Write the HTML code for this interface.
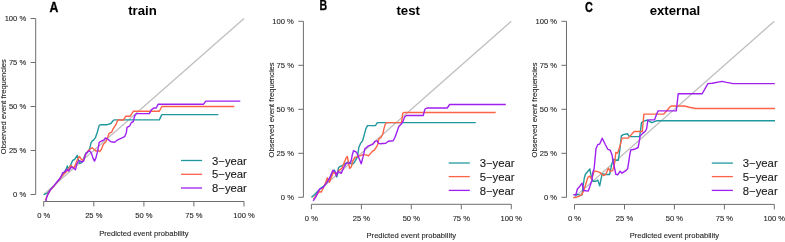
<!DOCTYPE html>
<html><head><meta charset="utf-8"><style>
html,body{margin:0;padding:0;background:#fff;}
svg{display:block;will-change:transform;}
</style></head><body>
<svg width="785" height="242" viewBox="0 0 785 242">
<rect width="785" height="242" fill="#fff"/>
<line x1="43.7" y1="194.5" x2="244" y2="18.5" stroke="#bdbdbd" stroke-width="1.15"/>
<clipPath id="ca"><rect x="35.7" y="11.5" width="216.3" height="190.1"/></clipPath>
<g clip-path="url(#ca)" fill="none" stroke-width="1.4" stroke-linejoin="round" stroke-linecap="butt">
<polyline stroke="#20999e" points="43.7,194.6 47.9,192.8 50.4,189.7 54.1,185.7 56.6,182.7 59.7,178.9 62,175.9 64.5,171.9 66.4,168.6 67.3,165.9 68.6,169.4 70.5,165.4 72.7,160.4 74.5,159.5 77.3,155.4 79.5,163.6 82,162.4 85.9,153.1 87.2,152.8 89.7,148.7 91,142.9 92.6,140.4 93.6,140.2 95.4,137.7 97.3,132.2 99.2,125.4 101,124.7 107.2,124.7 110.9,123.5 112.8,121 114,119.9 159.3,119.9 161.8,114.6 218.4,114.6"/>
<polyline stroke="#ff6347" points="45.4,200.3 47.9,193.9 50.4,189.9 54.1,185.9 56.6,182.9 59.7,179.1 62,175.9 65,172.9 68,169.9 70.9,165.4 72.5,166.9 74.1,167.7 77.7,159 79.4,156.5 81.4,159.4 83.5,160.4 85.6,154.4 87.6,151.6 90.5,148.7 92.2,147.8 94.3,149.5 95.9,151.1 98,150.3 99.6,151.6 101.3,149.5 103.3,144.5 104.6,142.9 106,141.4 107.8,137.1 109.1,133.4 111.6,132.2 113.4,128.4 115.9,124.7 117.8,120 123.4,120 125.9,116.2 130.2,116.2 133.3,111.3 159.3,111.3 161.8,106.5 234.3,106.5"/>
<polyline stroke="#a020f0" points="45.7,202.1 46.7,197.4 47.9,194.3 50.4,189.9 54.1,185.6 56.6,182.5 59.7,178.8 61.5,175.7 62.7,172.6 65,172 66.8,169.2 68.6,171.1 71.4,167 73.2,167.9 75.5,169.7 76.8,164.2 78.2,161.5 79.5,160.6 81.8,162 83.6,161.1 85,156.1 86.4,152.9 88.2,151.5 89.7,150.9 91.4,153.1 93.2,158.6 94.5,161.1 95.9,157.9 97.3,152.4 98.5,146.6 99.2,142.3 101.6,141 104.1,139.8 105.4,137.9 107.8,139.2 110.9,141.7 114.7,142.3 117.7,139.8 122.1,137.9 124.6,136.7 126.4,132.4 127,127.4 129.5,126.2 131.4,122.5 133.3,121.6 134.6,116 136.4,113.6 149.4,113.6 151.3,109.9 153.8,108 156.3,108 158.1,104.3 203.4,104.3 205.8,101.1 240.3,101.1"/>
</g>
<g stroke="#6e6e6e" stroke-width="1" fill="none">
<line x1="35.7" y1="18.5" x2="35.7" y2="194.5"/>
<line x1="30.6" y1="194.5" x2="35.7" y2="194.5"/>
<line x1="30.6" y1="150.5" x2="35.7" y2="150.5"/>
<line x1="30.6" y1="106.5" x2="35.7" y2="106.5"/>
<line x1="30.6" y1="62.5" x2="35.7" y2="62.5"/>
<line x1="30.6" y1="18.5" x2="35.7" y2="18.5"/>
<line x1="43.7" y1="201.5" x2="244" y2="201.5"/>
<line x1="43.7" y1="201.5" x2="43.7" y2="206.5"/>
<line x1="93.8" y1="201.5" x2="93.8" y2="206.5"/>
<line x1="143.9" y1="201.5" x2="143.9" y2="206.5"/>
<line x1="193.9" y1="201.5" x2="193.9" y2="206.5"/>
<line x1="244" y1="201.5" x2="244" y2="206.5"/>
</g>
<g font-family='"Liberation Sans", sans-serif' font-size="7.6" fill="#1e1e1e" stroke="#1e1e1e" stroke-width="0.1">
<text x="26.2" y="197.1" text-anchor="end">0 %</text>
<text x="26.2" y="153.1" text-anchor="end">25 %</text>
<text x="26.2" y="109.1" text-anchor="end">50 %</text>
<text x="26.2" y="65.1" text-anchor="end">75 %</text>
<text x="26.2" y="21.1" text-anchor="end">100 %</text>
<text x="43.7" y="218" text-anchor="middle">0 %</text>
<text x="93.8" y="218" text-anchor="middle">25 %</text>
<text x="143.9" y="218" text-anchor="middle">50 %</text>
<text x="193.9" y="218" text-anchor="middle">75 %</text>
<text x="244" y="218" text-anchor="middle">100 %</text>
<text x="143.9" y="235.7" text-anchor="middle">Predicted event probability</text>
<text transform="translate(6.1,106.7) rotate(-90)" text-anchor="middle">Observed event frequencies</text>
</g>
<line x1="181" y1="160.5" x2="202.1" y2="160.5" stroke="#20999e" stroke-width="1.3"/>
<line x1="181" y1="174.3" x2="202.1" y2="174.3" stroke="#ff6347" stroke-width="1.3"/>
<line x1="181" y1="188" x2="202.1" y2="188" stroke="#a020f0" stroke-width="1.3"/>
<g font-family='"Liberation Sans", sans-serif' font-size="11.3" fill="#1a1a1a" stroke="#1a1a1a" stroke-width="0.12">
<text x="212" y="164.6">3−year</text>
<text x="212" y="178.3">5−year</text>
<text x="212" y="192">8−year</text>
</g>
<text transform="translate(49.6,12.1) scale(0.79,1)" font-family='"Liberation Sans", sans-serif' font-weight="bold" font-size="15.5" fill="#000" stroke="#000" stroke-width="0.35">A</text>
<text transform="translate(142.5,14.8)" text-anchor="middle" font-family='"Liberation Sans", sans-serif' font-weight="bold" font-size="13.2" fill="#000">train</text>
<line x1="311.4" y1="197.3" x2="511.3" y2="21.3" stroke="#bdbdbd" stroke-width="1.15"/>
<clipPath id="cb"><rect x="303.4" y="14.3" width="215.9" height="190.1"/></clipPath>
<g clip-path="url(#cb)" fill="none" stroke-width="1.4" stroke-linejoin="round" stroke-linecap="butt">
<polyline stroke="#20999e" points="311.4,197 312.6,196.6 315.2,193.9 318.5,190.6 320.5,188.4 323.5,186.3 326.9,182.6 329.9,178.1 332.5,172.6 334.4,170 336.9,177 338.4,168.1 339.8,166.6 341.4,166 343.8,164.7 346.3,163.1 348,161.8 350,163.1 352.1,164.3 353.8,163.1 355.4,160.6 357.2,157.5 358,153.3 358.8,147.5 360.5,143.4 362.5,141 364.1,135.4 365.9,128.6 367.5,125.6 375.4,125.6 377.4,122.6 475.8,122.6"/>
<polyline stroke="#ff6347" points="313.5,199.4 315.9,195.5 319.8,191.6 321.2,192.2 325,184.2 327.4,177.8 329.4,182.3 333.4,172.3 335.9,174.3 338.9,170.3 341.8,168.4 344.3,162.4 345.9,158.4 347.3,156.5 349.6,168.4 351.3,166.7 352.9,160.9 354.7,157.3 356.8,156.9 358.8,156.1 361.3,155.3 363.4,154.4 365.5,154.9 368.8,155.7 370.4,153.6 372.1,151.6 374.5,149.9 377,146.2 377.9,143.7 378.9,138.8 380.8,137.6 382.7,134.5 383.9,128.9 385.1,124.6 386.4,122.6 401.5,122.6 402.7,113.4 404,112.5 495.7,112.5"/>
<polyline stroke="#a020f0" points="313.2,200.8 315.9,196.9 318.5,190.9 319.8,188.9 323.1,187.6 326.9,182.3 329.9,177.3 332.9,170.3 335.4,172.3 336.4,175.8 337.9,171.3 339.4,172.3 341.3,173.3 343.8,167.4 345.8,164.4 346.3,162.9 348.4,163.4 350,162.9 351.3,160.1 352.2,155.3 353.5,150.7 355.5,151.6 356.8,152.8 358.8,157.8 361.2,163.8 363,156.9 365,148.3 366.3,147.8 367.9,146.2 369.7,145.4 372.8,144.4 375.2,141.3 377.1,140.7 378.3,143.2 380.2,143.8 385.8,143.2 388.2,141.3 393.2,140.7 395.1,137 396.9,132 398.8,126.5 401.3,124 402.7,122 404.6,117.1 406.4,115.5 423.2,115.5 425,109 426.9,108 447.3,108 449.6,104.5 505.8,104.5"/>
</g>
<g stroke="#6e6e6e" stroke-width="1" fill="none">
<line x1="303.4" y1="21.3" x2="303.4" y2="197.3"/>
<line x1="298.3" y1="197.3" x2="303.4" y2="197.3"/>
<line x1="298.3" y1="153.3" x2="303.4" y2="153.3"/>
<line x1="298.3" y1="109.3" x2="303.4" y2="109.3"/>
<line x1="298.3" y1="65.3" x2="303.4" y2="65.3"/>
<line x1="298.3" y1="21.3" x2="303.4" y2="21.3"/>
<line x1="311.4" y1="204.3" x2="511.3" y2="204.3"/>
<line x1="311.4" y1="204.3" x2="311.4" y2="209.3"/>
<line x1="361.4" y1="204.3" x2="361.4" y2="209.3"/>
<line x1="411.3" y1="204.3" x2="411.3" y2="209.3"/>
<line x1="461.3" y1="204.3" x2="461.3" y2="209.3"/>
<line x1="511.3" y1="204.3" x2="511.3" y2="209.3"/>
</g>
<g font-family='"Liberation Sans", sans-serif' font-size="7.6" fill="#1e1e1e" stroke="#1e1e1e" stroke-width="0.1">
<text x="293.9" y="199.8" text-anchor="end">0 %</text>
<text x="293.9" y="155.8" text-anchor="end">25 %</text>
<text x="293.9" y="111.8" text-anchor="end">50 %</text>
<text x="293.9" y="67.8" text-anchor="end">75 %</text>
<text x="293.9" y="23.8" text-anchor="end">100 %</text>
<text x="311.4" y="220.7" text-anchor="middle">0 %</text>
<text x="361.4" y="220.7" text-anchor="middle">25 %</text>
<text x="411.3" y="220.7" text-anchor="middle">50 %</text>
<text x="461.3" y="220.7" text-anchor="middle">75 %</text>
<text x="511.3" y="220.7" text-anchor="middle">100 %</text>
<text x="411.3" y="237.9" text-anchor="middle">Predicted event probability</text>
<text transform="translate(273.8,109.9) rotate(-90)" text-anchor="middle">Observed event frequencies</text>
</g>
<line x1="448.7" y1="163" x2="469.8" y2="163" stroke="#20999e" stroke-width="1.3"/>
<line x1="448.7" y1="176.6" x2="469.8" y2="176.6" stroke="#ff6347" stroke-width="1.3"/>
<line x1="448.7" y1="190.4" x2="469.8" y2="190.4" stroke="#a020f0" stroke-width="1.3"/>
<g font-family='"Liberation Sans", sans-serif' font-size="11.3" fill="#1a1a1a" stroke="#1a1a1a" stroke-width="0.12">
<text x="479.7" y="167.1">3−year</text>
<text x="479.7" y="180.8">5−year</text>
<text x="479.7" y="194.5">8−year</text>
</g>
<text transform="translate(319.6,10.4) scale(0.68,1)" font-family='"Liberation Sans", sans-serif' font-weight="bold" font-size="15.5" fill="#000" stroke="#000" stroke-width="0.35">B</text>
<text transform="translate(408.2,14.8)" text-anchor="middle" font-family='"Liberation Sans", sans-serif' font-weight="bold" font-size="13.2" fill="#000">test</text>
<line x1="574.5" y1="197.3" x2="774.3" y2="21.3" stroke="#bdbdbd" stroke-width="1.15"/>
<clipPath id="cc"><rect x="566.5" y="14.3" width="215.8" height="190.1"/></clipPath>
<g clip-path="url(#cc)" fill="none" stroke-width="1.4" stroke-linejoin="round" stroke-linecap="butt">
<polyline stroke="#20999e" points="575.3,195.8 577.4,194.3 580.5,195.3 582.1,194.8 583.1,186.5 584.2,178.5 585.4,174.2 587.3,172 589.8,168.9 591,175.1 592.9,181.3 595.4,181.3 597.8,180.1 599.7,185.9 600.9,179.7 602.2,173.9 605.9,174.5 609.6,174.5 612.1,162.7 614,159 616.4,160.3 618.3,160.3 619.5,152.3 621.4,135.9 623.2,134.6 627.6,133.8 629.4,136.5 639.7,136.6 641.5,122.7 644,121.2 647.7,120 649.6,121.5 652,122.7 656.4,120.8 775,120.8"/>
<polyline stroke="#ff6347" points="573.3,197.7 576.4,197.2 579.5,196.2 582.1,194.1 584.1,189.5 585.2,185.9 586.2,182.8 587.9,177.4 589.8,176.1 591.6,179.2 594.1,171.2 596,171.2 599.7,172.4 603.4,175.5 605.9,174.3 608.4,168.1 610.2,171.2 612.7,170.6 614.6,163.1 615.8,152.4 617.7,153 620.1,145.6 622,138.1 628.2,138.1 634.2,131.5 642.3,131.5 643.9,114.1 663.8,114.1 666.3,111.3 670.1,106.7 671.4,106 684.4,106 689.3,107.3 695.5,108.5 775,108.5"/>
<polyline stroke="#a020f0" points="573.3,194.7 575.9,194.7 577.4,189 579,187.3 580.5,185.3 582.1,183.2 583.6,190.5 588.3,191.1 590.3,185.3 591.9,180.2 592.9,172.2 594.1,168.8 594.7,162.6 595.4,155.2 596,148.8 597.8,144.5 599.7,144.1 602.2,138.2 605.3,144.5 607.8,149.3 610.2,150.2 612.1,155 612.7,159.5 614,165.1 615.8,174.3 617.7,174.8 620.1,171.2 622,173.2 625.7,170.7 627.6,168.8 628.8,161.3 629.7,155.2 630.7,150 634.4,149.3 638.1,147.5 639.3,141.3 640.2,135.7 641.4,134.7 643,133.1 645.5,131 646.7,128.5 647.4,123.2 648,120.1 649.6,119.9 654.5,119.9 656.6,114.2 658.1,110.9 676.3,110.9 678.2,93.8 701.7,93.8 702.3,93.5 707.9,83.6 712.2,83.2 722.1,81.4 726.5,82.4 733.3,83.6 774.8,83.6"/>
</g>
<g stroke="#6e6e6e" stroke-width="1" fill="none">
<line x1="566.5" y1="21.3" x2="566.5" y2="197.3"/>
<line x1="561.4" y1="197.3" x2="566.5" y2="197.3"/>
<line x1="561.4" y1="153.3" x2="566.5" y2="153.3"/>
<line x1="561.4" y1="109.3" x2="566.5" y2="109.3"/>
<line x1="561.4" y1="65.3" x2="566.5" y2="65.3"/>
<line x1="561.4" y1="21.3" x2="566.5" y2="21.3"/>
<line x1="574.5" y1="204.4" x2="774.3" y2="204.4"/>
<line x1="574.5" y1="204.4" x2="574.5" y2="209.4"/>
<line x1="624.5" y1="204.4" x2="624.5" y2="209.4"/>
<line x1="674.4" y1="204.4" x2="674.4" y2="209.4"/>
<line x1="724.4" y1="204.4" x2="724.4" y2="209.4"/>
<line x1="774.3" y1="204.4" x2="774.3" y2="209.4"/>
</g>
<g font-family='"Liberation Sans", sans-serif' font-size="7.6" fill="#1e1e1e" stroke="#1e1e1e" stroke-width="0.1">
<text x="557" y="199.8" text-anchor="end">0 %</text>
<text x="557" y="155.8" text-anchor="end">25 %</text>
<text x="557" y="111.8" text-anchor="end">50 %</text>
<text x="557" y="67.8" text-anchor="end">75 %</text>
<text x="557" y="23.8" text-anchor="end">100 %</text>
<text x="574.5" y="220.7" text-anchor="middle">0 %</text>
<text x="624.5" y="220.7" text-anchor="middle">25 %</text>
<text x="674.4" y="220.7" text-anchor="middle">50 %</text>
<text x="724.4" y="220.7" text-anchor="middle">75 %</text>
<text x="774.3" y="220.7" text-anchor="middle">100 %</text>
<text x="674.4" y="237.9" text-anchor="middle">Predicted event probability</text>
<text transform="translate(536.9,109.9) rotate(-90)" text-anchor="middle">Observed event frequencies</text>
</g>
<line x1="711.8" y1="163.1" x2="732.9" y2="163.1" stroke="#20999e" stroke-width="1.3"/>
<line x1="711.8" y1="176.6" x2="732.9" y2="176.6" stroke="#ff6347" stroke-width="1.3"/>
<line x1="711.8" y1="190.4" x2="732.9" y2="190.4" stroke="#a020f0" stroke-width="1.3"/>
<g font-family='"Liberation Sans", sans-serif' font-size="11.3" fill="#1a1a1a" stroke="#1a1a1a" stroke-width="0.12">
<text x="742.8" y="167.1">3−year</text>
<text x="742.8" y="180.8">5−year</text>
<text x="742.8" y="194.5">8−year</text>
</g>
<text transform="translate(584.9,11.6) scale(0.7,1)" font-family='"Liberation Sans", sans-serif' font-weight="bold" font-size="15.5" fill="#000" stroke="#000" stroke-width="0.35">C</text>
<text transform="translate(675,14.8)" text-anchor="middle" font-family='"Liberation Sans", sans-serif' font-weight="bold" font-size="13.2" fill="#000">external</text>
</svg>
</body></html>
